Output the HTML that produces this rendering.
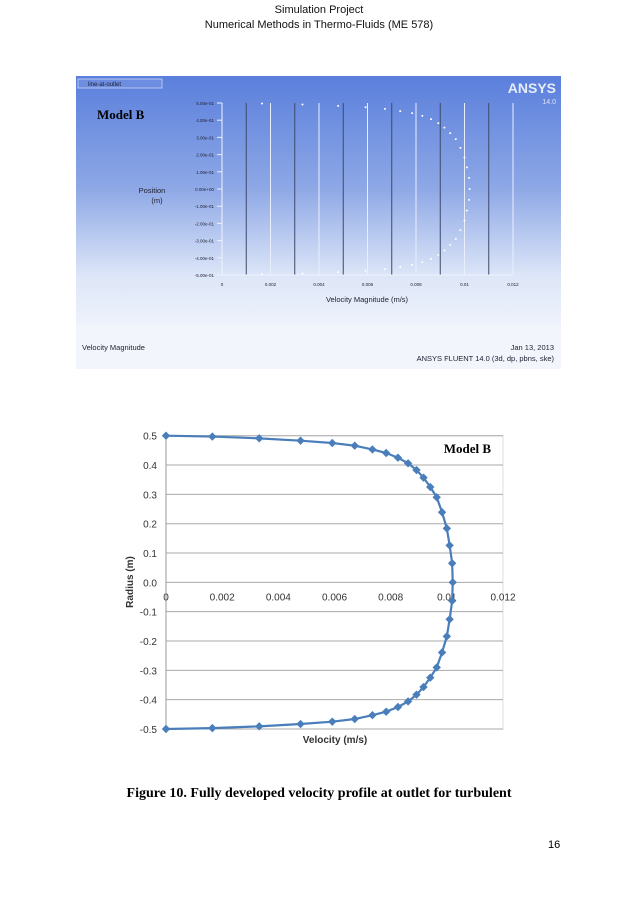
<!DOCTYPE html>
<html><head><meta charset="utf-8">
<style>
body{margin:0;width:638px;height:902px;background:#fff;position:relative;overflow:hidden;font-family:"Liberation Sans",sans-serif;}
.abs{position:absolute;}
</style></head>
<body>
<div class="abs" style="left:0;width:638px;top:4px;text-align:center;font-size:11px;color:#111;">Simulation Project</div>
<div class="abs" style="left:0;width:638px;top:19px;text-align:center;font-size:11px;color:#111;">Numerical Methods in Thermo-Fluids (ME 578)</div>

<svg class="abs" style="left:76px;top:75px" width="490" height="300" viewBox="76 75 490 300" id="shot">
<defs>
<linearGradient id="bg" x1="0" y1="0" x2="0" y2="1">
<stop offset="0" stop-color="#5a7fdc"/><stop offset="0.45" stop-color="#8ea8e6"/><stop offset="0.8" stop-color="#dde6f8"/><stop offset="1" stop-color="#eef2fb"/>
</linearGradient>
</defs>
<rect x="76" y="76" width="485" height="250" fill="url(#bg)"/>
<rect x="76" y="325" width="485" height="44" fill="#f2f5fc"/>
<rect x="78" y="79" width="84" height="9" fill="#6d8de0" stroke="#c8d4f4" stroke-width="0.8"/>
<text x="88" y="86" font-size="6" fill="#223" font-family="Liberation Sans">line-at-outlet</text>
<text x="97" y="119" font-size="13" font-weight="bold" fill="#000" font-family="Liberation Serif">Model B</text>
<text x="556" y="93" font-size="14" fill="#e6ecfa" font-family="Liberation Sans" font-weight="bold" text-anchor="end">ANSYS</text>
<text x="556" y="104" font-size="7" fill="#dde4f7" font-family="Liberation Sans" text-anchor="end">14.0</text>
<text x="152" y="193" font-size="7.5" fill="#223" font-family="Liberation Sans" text-anchor="middle">Position</text>
<text x="157" y="203" font-size="7.5" fill="#223" font-family="Liberation Sans" text-anchor="middle">(m)</text>
<text x="367" y="302" font-size="7.5" fill="#223" font-family="Liberation Sans" text-anchor="middle">Velocity Magnitude (m/s)</text>
<text x="82" y="350" font-size="7.5" fill="#223" font-family="Liberation Sans">Velocity Magnitude</text>
<text x="554" y="350" font-size="7.5" fill="#223" font-family="Liberation Sans" text-anchor="end">Jan 13, 2013</text>
<text x="554" y="361" font-size="7.5" fill="#223" font-family="Liberation Sans" text-anchor="end">ANSYS FLUENT 14.0 (3d, dp, pbns, ske)</text>
<g id="shotplot"></g>
</svg>

<svg class="abs" style="left:0;top:0" width="638" height="902" id="chart">
<g id="cplot"></g>
<text x="491" y="453" font-size="13" font-weight="bold" font-family="Liberation Serif" text-anchor="end">Model B</text>
<text x="335" y="743" font-size="10" font-weight="bold" fill="#333" text-anchor="middle" font-family="Liberation Sans">Velocity (m/s)</text>
<text x="0" y="0" font-size="10" font-weight="bold" fill="#333" text-anchor="middle" font-family="Liberation Sans" transform="translate(133,582) rotate(-90)">Radius (m)</text>
</svg>

<div class="abs" style="left:0;width:638px;top:786px;text-align:center;font-size:14px;font-weight:bold;font-family:'Liberation Serif',serif;">Figure 10. Fully developed velocity profile at outlet for turbulent</div>
<div class="abs" style="left:548px;top:839px;font-size:11px;">16</div>

<script>
const velocity = [0,0.00165,0.00332,0.00479,0.00592,0.00672,0.00735,0.00784,0.00826,0.00862,0.00892,0.00917,0.00941,0.00964,0.00983,0.01000,0.01010,0.01019,0.01021,0.01019,0.01010,0.01000,0.00983,0.00964,0.00941,0.00917,0.00892,0.00862,0.00826,0.00784,0.00735,0.00672,0.00592,0.00479,0.00332,0.00165,0];
const radius = [0.5,0.497,0.491,0.483,0.475,0.466,0.453,0.441,0.425,0.406,0.383,0.357,0.325,0.290,0.239,0.184,0.126,0.065,0.0,-0.063,-0.126,-0.184,-0.239,-0.290,-0.325,-0.357,-0.383,-0.406,-0.425,-0.441,-0.453,-0.466,-0.475,-0.483,-0.491,-0.497,-0.5];
const xTicks = [0,0.002,0.004,0.006,0.008,0.01,0.012];
const xTickLabels = ["0","0.002","0.004","0.006","0.008","0.01","0.012"];
const yTicks = [0.5,0.4,0.3,0.2,0.1,0,-0.1,-0.2,-0.3,-0.4,-0.5];
const yTickLabels = ["0.5","0.4","0.3","0.2","0.1","0.0","-0.1","-0.2","-0.3","-0.4","-0.5"];

const NS="http://www.w3.org/2000/svg";
function mk(tag,attrs,parent){const e=document.createElementNS(NS,tag);for(const k in attrs)e.setAttribute(k,attrs[k]);parent.appendChild(e);return e;}

const X0=166,X1=503,Y0=435.7,Y1=729;
const sx=v=>X0+(v/0.012)*(X1-X0);
const sy=v=>Y0+(0.5-v)*(Y1-Y0);
const cp=document.getElementById('cplot');
mk('rect',{x:X0,y:Y0,width:X1-X0,height:Y1-Y0,fill:'none',stroke:'#ddd'},cp);
yTicks.forEach((t,i)=>{
  const g=mk('line',{x1:X0,x2:X1,y1:sy(t),y2:sy(t),stroke:'#aaa','stroke-width':1},cp);
  
  
  const tx=mk('text',{x:157,y:sy(t)+4,'font-size':10,fill:'#333','text-anchor':'end','font-family':'Liberation Sans'},cp);
  tx.textContent=yTickLabels[i];
  
  
});
mk('line',{x1:X0,x2:X0,y1:Y0,y2:Y1,stroke:'#999'},cp);
xTicks.forEach((t,i)=>{
  const tx=mk('text',{x:sx(t),y:sy(0)+18,'font-size':10,fill:'#333','text-anchor':'middle','font-family':'Liberation Sans'},cp);
  tx.textContent=xTickLabels[i];
  
  
});
const pts=velocity.map((v,i)=>sx(v)+','+sy(radius[i])).join(' ');
const line=mk('polyline',{points:pts,fill:'none',stroke:'#4a7ebb','stroke-width':2.2},cp);


velocity.forEach((v,i)=>{
  const x=sx(v),y=sy(radius[i]),r=4.2;
  const m=mk('polygon',{points:`${x},${y-r} ${x+r},${y} ${x},${y+r} ${x-r},${y}`,fill:'#4a7ebb'},cp);
  
  
});

const A0=222,A1=513,B0=103,B1=275;
const ax=v=>A0+(v/0.012)*(A1-A0);
const ay=v=>B0+(0.5-v)*(B1-B0);
const sp=document.getElementById('shotplot');
const darkLines=[0.001,0.003,0.005,0.007,0.009,0.011];
const lightLines=[0.002,0.004,0.006,0.008,0.01,0.012];
darkLines.forEach(v=>{const l=mk('line',{x1:ax(v),x2:ax(v),y1:B0,y2:B1,stroke:'#3c4a6a','stroke-width':1},sp);
  
  });
lightLines.forEach(v=>{const l=mk('line',{x1:ax(v),x2:ax(v),y1:B0,y2:B1,stroke:'#e8eefc','stroke-width':1},sp);
  
  });
mk('line',{x1:A0,x2:A0,y1:B0,y2:B1,stroke:'#eef2fc'},sp);
mk('line',{x1:A0,x2:A1,y1:B1,y2:B1,stroke:'#eef2fc'},sp);
const shotY=["5.00e-01","4.00e-01","3.00e-01","2.00e-01","1.00e-01","0.00e+00","-1.00e-01","-2.00e-01","-3.00e-01","-4.00e-01","-5.00e-01"];
yTicks.forEach((t,i)=>{
  mk('line',{x1:A0-5,x2:A0,y1:ay(t),y2:ay(t),stroke:'#eef2fc'},sp);
  const tx=mk('text',{x:A0-8,y:ay(t)+2,'font-size':4.5,fill:'#223','text-anchor':'end','font-family':'Liberation Sans'},sp);
  tx.textContent=shotY[i];
  
  
});
xTicks.forEach((t,i)=>{
  const tx=mk('text',{x:ax(t),y:B1+11,'font-size':4.5,fill:'#223','text-anchor':'middle','font-family':'Liberation Sans'},sp);
  tx.textContent=xTickLabels[i];
  
  
});
velocity.forEach((v,i)=>{
  if(v===0)return;
  const c=mk('circle',{cx:ax(v),cy:ay(radius[i]),r:1,fill:'#fff'},sp);
  
  
});
</script>
</body></html>
